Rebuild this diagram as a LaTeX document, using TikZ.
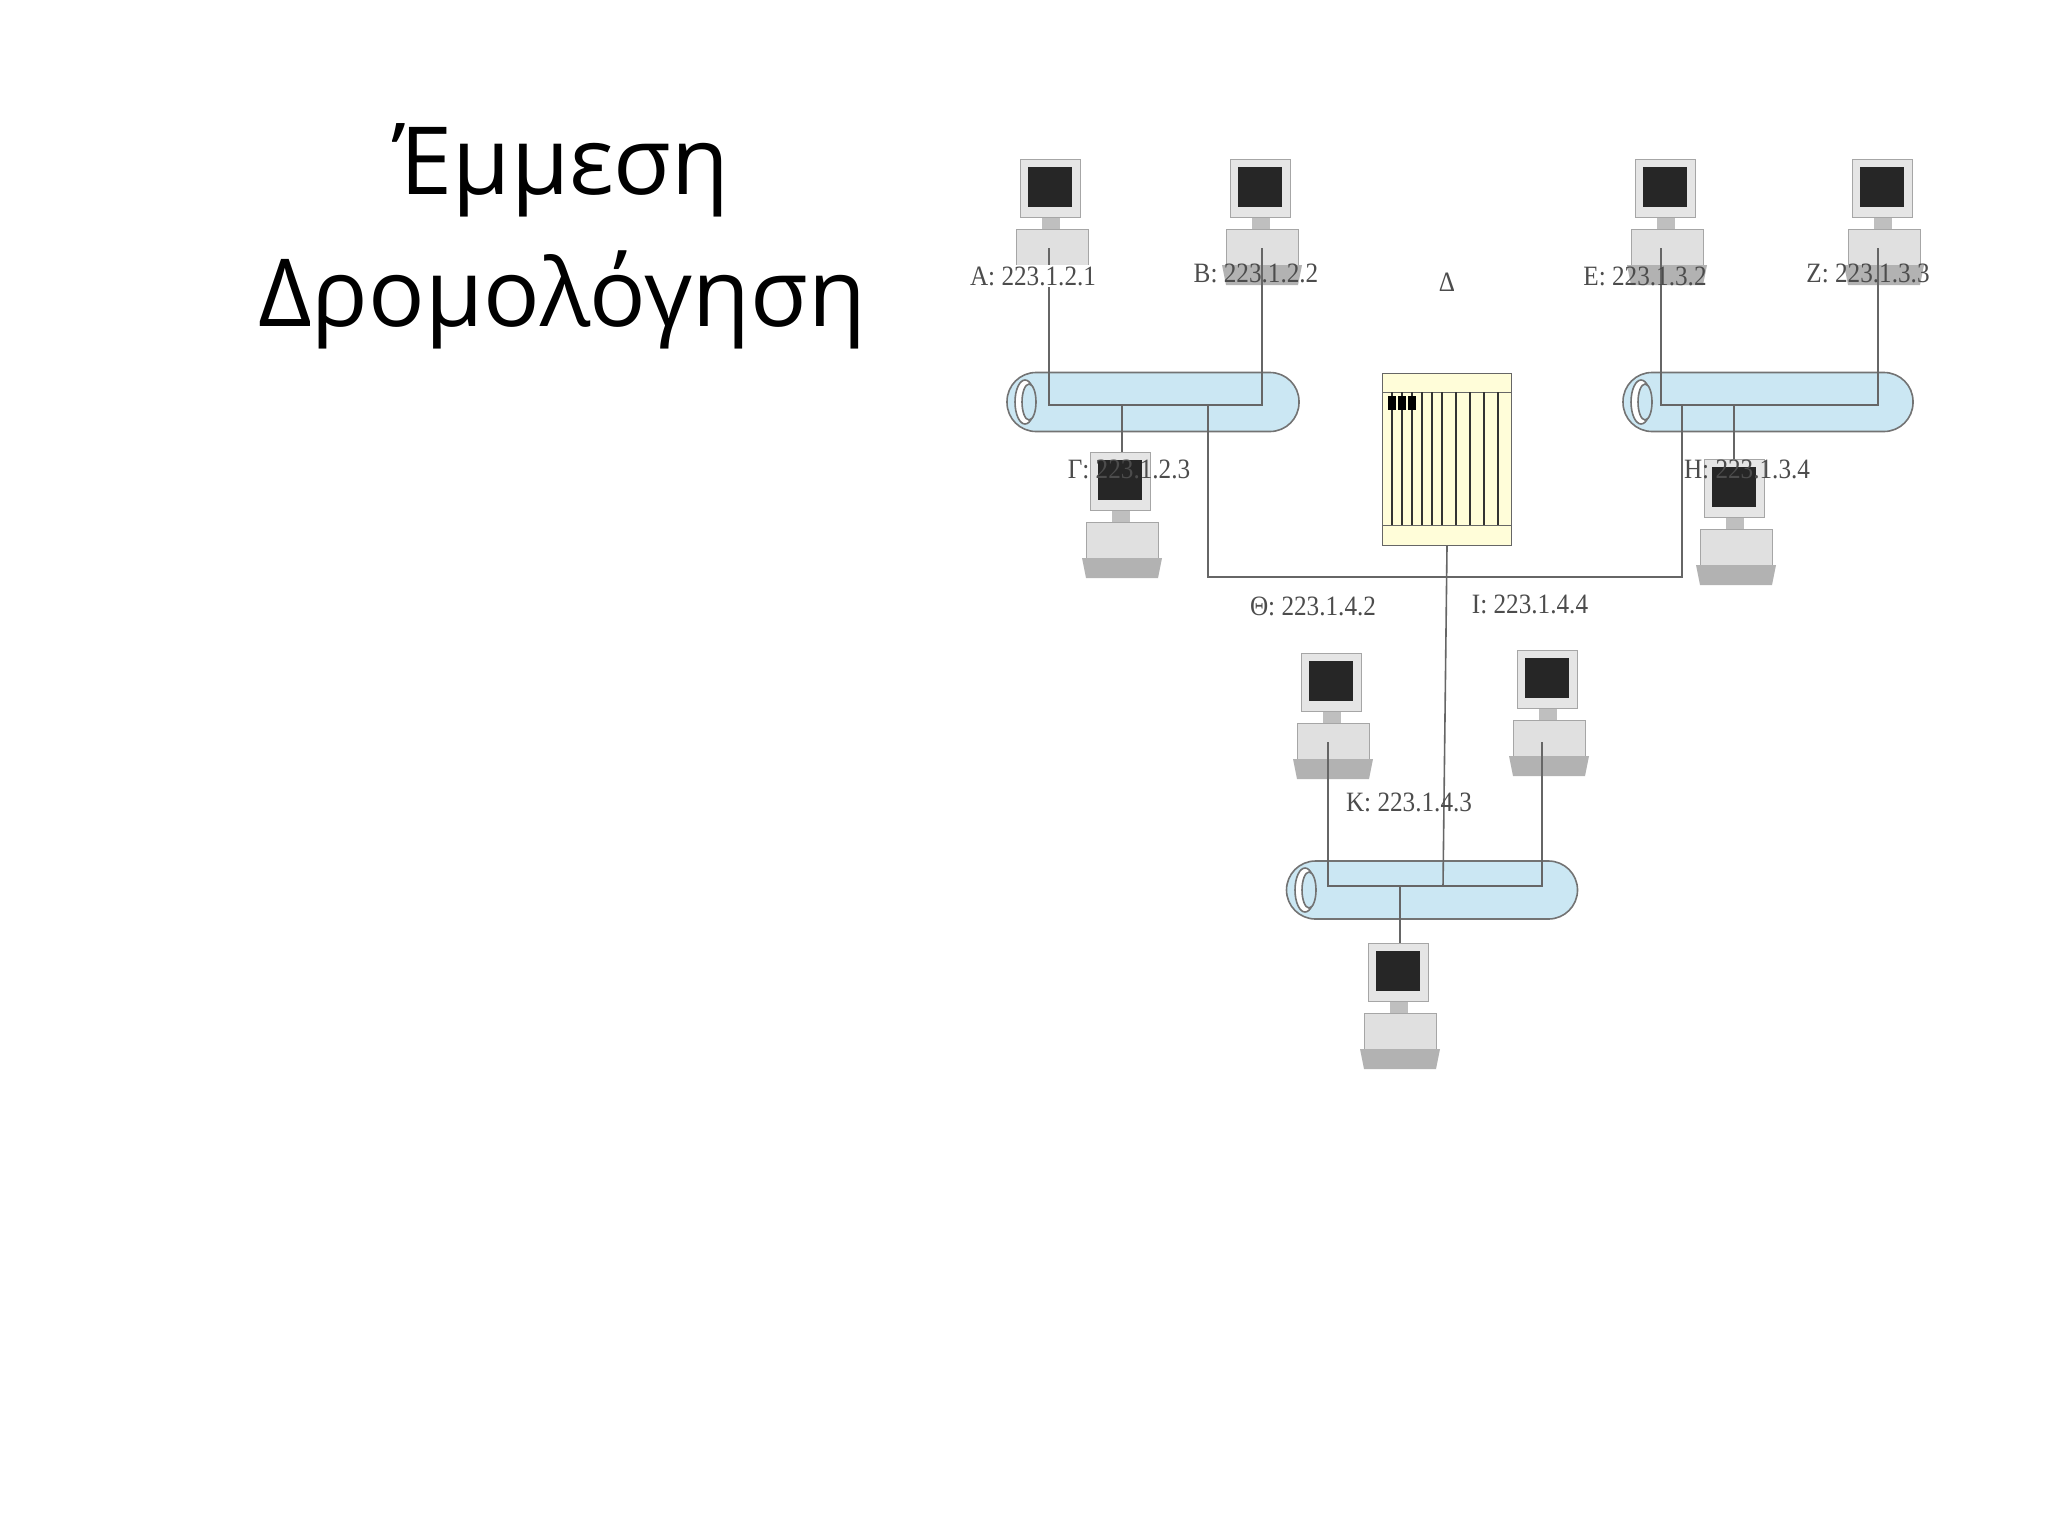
\documentclass[tikz,border=0pt]{standalone}
\usepackage{fontspec}
\setmainfont{Open Sans}
\newfontfamily\condf[FakeStretch=0.8]{Fira Sans}
\newfontfamily\serf[FakeStretch=0.9]{Liberation Serif}
\newfontfamily\itf[FakeStretch=0.9]{Fira Sans Light}
\begin{document}
\begin{tikzpicture}[x=0.5pt,y=-0.5pt,
  btxt/.style={font=\fontsize{20}{30.5}\selectfont,align=center},
  addr/.style={font=\serf\fontsize{14}{16}\selectfont,text=black!70},
  nett/.style={font=\itf\itshape\fontsize{13}{26}\selectfont,text=black!65,align=left,anchor=west},
  wire/.style={draw=black!60,line width=0.8pt},
  cable/.style={draw=black!55,fill=cabl,line width=0.8pt,rounded corners=14.5pt},
  thd/.style={font=\condf\bfseries\fontsize{17}{20}\selectfont,text=black!85},
  tcell/.style={font=\condf\fontsize{17}{20}\selectfont,text=black!85},
  cap/.style={font=\condf\fontsize{15}{19}\selectfont,text=black!80,align=center},
  tline/.style={draw=tealB,line width=2pt},
  pc/.pic={
    \fill[black!12] (-36,6) rectangle (36,42);
    \draw[black!35,line width=0.4pt] (-36,6) rectangle (36,42);
    \fill[black!30] (-40,42) -- (40,42) -- (36,62) -- (-36,62) -- cycle;
    \fill[black!25] (-10,-6) rectangle (8,6);
    \fill[black!10] (-32,-64) rectangle (28,-6);
    \draw[black!35,line width=0.4pt] (-32,-64) rectangle (28,-6);
    \fill[black!85] (-24,-56) rectangle (20,-16);
  }]
\definecolor{tealH}{HTML}{67AFA7}
\definecolor{tealB}{HTML}{2E7C74}
\definecolor{tealL}{HTML}{BFE2DE}
\definecolor{capT}{HTML}{2E8A80}
\definecolor{cabl}{HTML}{CBE7F3}
\useasboundingbox[fill=white] (0,0) rectangle (2048,1536);

% title
\node[font=\fontsize{47}{50}\selectfont] (t1) at (562,170) {Έμμεση};
\node[font=\fontsize{47}{50}\selectfont] (t2) at (562,300) {Δρομολόγηση};

% ---------- network ----------
\node[cable,minimum width=146pt,minimum height=29.5pt] (c1) at (1153,402) {};
\node[cable,minimum width=145pt,minimum height=29.5pt] (c2) at (1768,402) {};
\node[cable,minimum width=145.5pt,minimum height=29pt] (c3) at (1432,890) {};
\foreach \x/\y in {1025/402,1641/402,1305/890}{
  \draw[black!55,fill=white,line width=0.8pt] (\x,\y) ellipse (5pt and 11pt);
  \draw[black!55,fill=cabl,line width=0.8pt] (\x+4,\y) ellipse (3.5pt and 9pt);
}
% router
\node[draw=black!60,fill=yellow!15,minimum width=64.5pt,minimum height=86pt,inner sep=0pt] (r) at (1447,459) {};
\draw[black!60] (1382,392) -- (1511,392) (1382,525) -- (1511,525);
\foreach \x in {1392,1402,1412,1422,1432,1442,1456,1470,1484,1498}
  \draw[black!80,line width=0.6pt] (\x,392) -- (\x,525);
\foreach \x in {1392,1402,1412} \fill[black] (\x-4,396) rectangle (\x+4,410);
\node[addr] (rl) at (1447,282) {Δ};

% computers
\foreach \n/\x/\y in {A/1052/223,B/1262/223,E/1667/223,Z/1884/223,G/1122/516,H/1736/523,Th/1333/717,I/1549/714,K/1400/1007}
  \pic (p\n) at (\x,\y) {pc};
\coordinate (pA) at (1049,248); \coordinate (pB) at (1262,248);
\coordinate (pE) at (1661,248); \coordinate (pZ) at (1878,248);
\coordinate (pTh) at (1328,742); \coordinate (pI) at (1542,742);
% wires
\draw[wire] (pA) -- (1049,405) -- (1262,405) -- (pB);
\draw[wire] (1122,405) -- (1122,452);
\draw[wire] (pE) -- (1661,405) -- (1878,405) -- (pZ);
\draw[wire] (1734,405) -- (1734,459);
\draw[wire] (pTh) -- (1328,886) -- (1542,886) -- (pI);
\draw[wire] (1400,886) -- (1400,943);
\draw[wire] (1208,405) -- (1208,577) -- (1682,577) -- (1682,405);
\draw[wire] (r.south) -- (1443,886);

% labels
\node[addr,fill=white,inner sep=1pt] (lA) at (1033,276) {A: 223.1.2.1};
\node[addr] (lB) at (1256,273) {B: 223.1.2.2};
\node[addr] (lE) at (1645,276) {E: 223.1.3.2};
\node[addr] (lZ) at (1868,273) {Z: 223.1.3.3};
\node[addr] (lG) at (1129,469) {Γ: 223.1.2.3};
\node[addr] (lH) at (1747,469) {H: 223.1.3.4};
\node[addr] (lTh) at (1313,606) {Θ: 223.1.4.2};
\node[addr] (lI) at (1530,604) {I: 223.1.4.4};
\node[addr] (lK) at (1409,802) {K: 223.1.4.3};
\end{tikzpicture}
\end{document}
